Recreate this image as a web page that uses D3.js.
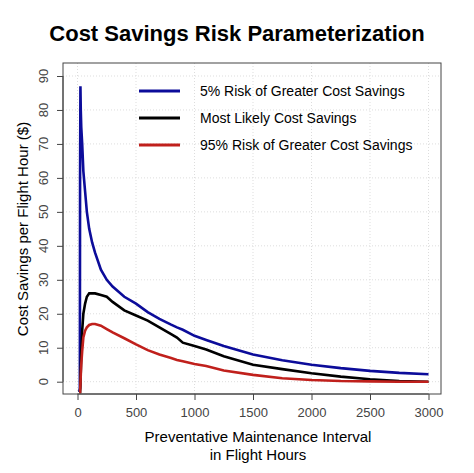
<!DOCTYPE html><html><head><script src="https://cdn.jsdelivr.net/npm/d3@7"></script>
<style>body{margin:0;background:#fff}text{font-family:"Liberation Sans",Arial,sans-serif}</style></head><body><svg id="c" width="474" height="473"></svg>
<script>
const xTicks=[0,500,1000,1500,2000,2500,3000];
const yTicks=[0,10,20,30,40,50,60,70,80,90];
const hours=[15,20,22,25,28,32,40,50,65,80,100,125,150,200,250,300,400,500,600,700,800,850,900,1000,1100,1250,1500,1750,2000,2250,2500,2750,3000];
const high =[-3,-2,60,87,80,75,70,62,56,50,45,41,38,33,30,28,25,23,20.5,18.5,16.8,16,15.3,13.5,12.3,10.5,8,6.3,5,4,3.2,2.6,2.2];
const likely=[-3,-3,-3,-1,3,8,15,20,23,25,26,26,26,25.5,25,23.5,21,19.5,18,16,14,13,11.5,10.5,9.5,7.5,5,3.7,2.5,1.5,0.7,0.2,0];
const low  =[-3,-3,-3,-1,2,5,9,13,15,16,16.7,17,17,16.5,15.5,14.5,12.8,11,9.3,8,7,6.4,6,5.2,4.6,3.3,2,1,0.5,0.2,0.1,0,0];
const labels=["5% Risk of Greater Cost Savings","Most Likely Cost Savings","95% Risk of Greater Cost Savings"];
const colors=["#0c0c9a","#000","#c0201c"];
const svg=d3.select("#c");
const x=d3.scaleLinear().domain([0,3000]).range([77.5,428.5]);
const y=d3.scaleLinear().domain([0,90]).range([381.7,76]);
const L=63,R=441,T=63,B=394;
svg.append("text").attr("x",237).attr("y",41).attr("text-anchor","middle").attr("font-size",22).attr("font-weight","bold").text("Cost Savings Risk Parameterization");
const g=svg.append("g");
xTicks.forEach(t=>g.append("line").attr("x1",x(t)).attr("x2",x(t)).attr("y1",T).attr("y2",B).attr("stroke","#ddd").attr("stroke-dasharray","1,2"));
yTicks.forEach(t=>g.append("line").attr("x1",L).attr("x2",R).attr("y1",y(t)).attr("y2",y(t)).attr("stroke","#ddd").attr("stroke-dasharray","1,2"));
svg.append("rect").attr("x",L).attr("y",T).attr("width",R-L).attr("height",B-T).attr("fill","none").attr("stroke","#444");
const xa=svg.append("g").attr("transform",`translate(0,${B})`).call(d3.axisBottom(x).tickValues(xTicks).tickFormat(d3.format("d")).tickSize(6).tickPadding(8));
xa.select(".domain").attr("d",`M${x(0)},0H${x(3000)}`);
xa.selectAll("text").attr("font-size",13).attr("fill","#444").attr("font-family","Liberation Sans,Arial");
const ya=svg.append("g").attr("transform",`translate(${L},0)`).call(d3.axisLeft(y).tickValues(yTicks).tickFormat("").tickSize(6));
ya.select(".domain").attr("d",`M0,${y(0)}V${y(90)}`);
yTicks.forEach(t=>svg.append("text").attr("transform",`translate(48,${y(t)}) rotate(-90)`).attr("text-anchor","middle").attr("font-size",13).attr("fill","#444").text(t));
svg.selectAll(".tick line").attr("stroke","#444");svg.selectAll(".domain").attr("stroke","#444");
svg.append("text").attr("x",258).attr("y",442).attr("text-anchor","middle").attr("font-size",15).text("Preventative Maintenance Interval");
svg.append("text").attr("x",258).attr("y",460).attr("text-anchor","middle").attr("font-size",15).text("in Flight Hours");
svg.append("text").attr("transform","translate(28,229) rotate(-90)").attr("text-anchor","middle").attr("font-size",15).text("Cost Savings per Flight Hour ($)");
svg.append("clipPath").attr("id","cp").append("rect").attr("x",L).attr("y",T).attr("width",R-L).attr("height",B-T);
const line=d3.line().x((d,i)=>x(hours[i])).y(d=>y(d));
[high,likely,low].forEach((s,k)=>svg.append("path").attr("d",line(s)).attr("fill","none").attr("stroke",colors[k]).attr("stroke-width",2.6).attr("clip-path","url(#cp)"));
labels.forEach((l,k)=>{const yy=91+k*27;
svg.append("line").attr("x1",139).attr("x2",180).attr("y1",yy).attr("y2",yy).attr("stroke",colors[k]).attr("stroke-width",3);
svg.append("text").attr("x",200).attr("y",yy+5).attr("font-size",14).text(l);});
</script></body></html>
